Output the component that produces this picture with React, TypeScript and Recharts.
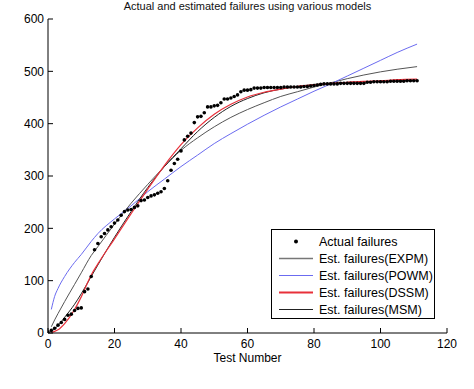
import React from 'react';
import { ComposedChart, Line, XAxis, YAxis } from 'recharts';

// Actual cumulative failures, one value per test number starting at 0
const actualFailures = [
  2, 5, 9, 15, 20, 26, 34, 36, 43, 47, 48, 79, 84, 108, 159, 171, 184, 190, 197, 203,
  210, 216, 225, 232, 235, 236, 240, 243, 253, 254, 259, 262, 264, 267, 270, 276, 291, 311, 324, 332,
  348, 369, 376, 382, 402, 413, 414, 421, 432, 432, 434, 435, 440, 447, 447, 449, 452, 455, 461, 464,
  464, 465, 468, 468, 468, 469, 469, 469, 469, 469, 469, 470, 470, 470, 470, 470, 470, 471, 471, 472,
  473, 474, 475, 476, 476, 476, 476, 476, 477, 477, 477, 477, 477, 477, 477, 477, 479, 479, 480, 480,
  480, 480, 480, 481, 481, 481, 481, 481, 482, 482, 482, 482,
];

// Test numbers at which the model curves are sampled
const modelT = [1, 2, 3, 5, 8, 10, 13, 15, 20, 25, 30, 35, 40, 45, 50, 55, 60, 65, 70, 75, 80, 85, 90, 95, 100, 105, 111];

const expm = [12, 25, 37, 60, 93, 115, 148, 165, 208, 248, 284, 318, 349, 373, 394, 412, 427, 440, 452, 461, 470, 478, 486, 493, 499, 504, 509];
const powm = [45, 70, 85, 108, 135, 150, 175, 190, 218, 243, 270, 294, 318, 340, 362, 381, 399, 416, 432, 447, 462, 476, 491, 506, 521, 536, 552];
const dssm = [1, 3, 6, 18, 45, 69, 111, 132, 180, 228, 275, 320, 360, 392, 418, 437, 451, 460, 466, 471, 474, 477, 479, 481, 482, 484, 485];
const msm = [3, 8, 14, 30, 55, 75, 108, 130, 183, 232, 278, 318, 352, 385, 412, 433, 448, 459, 466, 471, 475, 477, 479, 480, 481, 482, 483];

const xTicks = [0, 20, 40, 60, 80, 100, 120];
const yTicks = [0, 100, 200, 300, 400, 500, 600];

const actualData = actualFailures.map((v, i) => ({ t: i, v }));
const toSeries = (vals: number[]) => modelT.map((t, i) => ({ t, v: vals[i] }));

const FONT = 'Arial, "Liberation Sans", Helvetica, sans-serif';

const legendItems = [
  { name: 'Actual failures', color: '#000', dot: true },
  { name: 'Est. failures(EXPM)', color: '#777', w: 1.5 },
  { name: 'Est. failures(POWM)', color: '#6b6bf0', w: 1 },
  { name: 'Est. failures(DSSM)', color: '#e8303a', w: 2 },
  { name: 'Est. failures(MSM)', color: '#222', w: 1 },
];

const tickStyle = { fill: '#000', fontSize: 12, fontFamily: FONT };

export default function App() {
  return (
    <div style={{ position: 'absolute', left: 0, top: 0, width: 474, height: 389, background: '#fff', fontFamily: FONT }}>
      <div style={{ position: 'absolute', left: 48, width: 399, top: 0, textAlign: 'center', fontSize: 11, lineHeight: '12px', color: '#111' }}>
        Actual and estimated failures using various models
      </div>
      <ComposedChart width={474} height={389} margin={{ top: 19, right: 27, bottom: 26, left: 8 }}>
        <XAxis
          dataKey="t"
          type="number"
          domain={[0, 120]}
          ticks={xTicks}
          tickSize={-5}
          tickMargin={11}
          height={30}
          tick={tickStyle}
          stroke="#000"
          allowDataOverflow
        />
        <XAxis
          xAxisId="top"
          orientation="top"
          type="number"
          domain={[0, 120]}
          ticks={xTicks}
          tickSize={-5}
          height={0}
          tick={{ fill: 'none', fontSize: 1 }}
          stroke="#000"
        />
        <YAxis
          type="number"
          domain={[0, 600]}
          ticks={yTicks}
          tickSize={-5}
          tickMargin={9}
          width={40}
          tick={tickStyle}
          stroke="#000"
          allowDataOverflow
        />
        <YAxis
          yAxisId="right"
          orientation="right"
          type="number"
          domain={[0, 600]}
          ticks={yTicks}
          tickSize={-5}
          width={0}
          tick={{ fill: 'none', fontSize: 1 }}
          stroke="#000"
        />
        <Line data={toSeries(expm)} dataKey="v" type="monotone" stroke="#555" strokeWidth={1} dot={false} isAnimationActive={false} />
        <Line data={toSeries(powm)} dataKey="v" type="monotone" stroke="#6b6bf0" strokeWidth={1} dot={false} isAnimationActive={false} />
        <Line data={toSeries(msm)} dataKey="v" type="monotone" stroke="#222" strokeWidth={1} dot={false} isAnimationActive={false} />
        <Line data={toSeries(dssm)} dataKey="v" type="monotone" stroke="#e8303a" strokeWidth={1.2} dot={false} isAnimationActive={false} />
        <Line
          data={actualData}
          dataKey="v"
          stroke="none"
          dot={{ r: 1.8, fill: '#000', stroke: 'none' }}
          isAnimationActive={false}
        />
      </ComposedChart>
      <div style={{ position: 'absolute', left: 48, width: 399, top: 351, textAlign: 'center', fontSize: 12, color: '#000' }}>
        Test Number
      </div>
      <div
        style={{
          position: 'absolute',
          left: 271,
          top: 229,
          width: 164,
          height: 90,
          border: '1px solid #000',
          background: '#fff',
          paddingTop: 3,
          boxSizing: 'border-box',
        }}
      >
        {legendItems.map((item) => (
          <div key={item.name} style={{ display: 'flex', alignItems: 'center', height: 17, fontSize: 12.5 }}>
            <svg width={47} height={17} style={{ flex: 'none' }}>
              {item.dot ? (
                <circle cx={24} cy={8.5} r={2} fill="#000" />
              ) : (
                <line x1={7} x2={41} y1={8.5} y2={8.5} stroke={item.color} strokeWidth={item.w} />
              )}
            </svg>
            <span>{item.name}</span>
          </div>
        ))}
      </div>
    </div>
  );
}
